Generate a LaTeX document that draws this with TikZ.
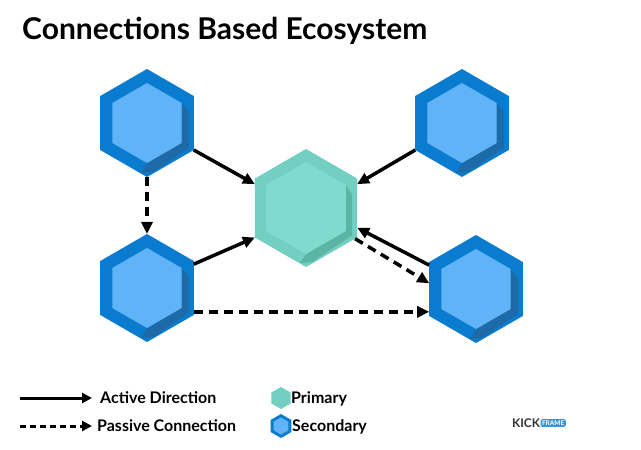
\documentclass[tikz,border=0pt]{standalone}
\usepackage{fontspec}
\setmainfont{Lato}
\usetikzlibrary{shapes.geometric,arrows.meta}
\definecolor{secO}{HTML}{0A7CCF}\definecolor{secI}{HTML}{60B3F7}\definecolor{secS}{HTML}{1E6AA6}
\definecolor{priO}{HTML}{72CFC1}\definecolor{priI}{HTML}{80DACD}\definecolor{priS}{HTML}{5BB5A5}
\begin{document}
\begin{tikzpicture}[x=1pt,y=-1pt,
  hexa/.style={regular polygon,regular polygon sides=6,shape border rotate=30,inner sep=0pt,outer sep=0pt,draw=none},
  act/.style={line width=3.5pt,-{Triangle[length=12pt,width=11pt]}},
  pas/.style={act,dash pattern=on 9pt off 6pt},
  lbl/.style={font=\fontsize{16}{18}\selectfont\bfseries,anchor=west,inner sep=0pt}]
\useasboundingbox (0,0) rectangle (641,450);
\fill[white] (0,0) rectangle (641,450);
\node[anchor=base west,inner sep=0pt,font=\fontsize{30}{34}\selectfont\bfseries] (title) at (22,39) {Connections Based Ecosystem};
% hexagons
\newcommand{\inner}[4]{\fill[#4] (#1+0.866*#3,#2-0.5*#3) -- (#1+0.866*#3,#2+0.5*#3) -- (#1,#2+#3) -- (#1-0.866*#3,#2+0.5*#3) -- (#1-0.866*#3,#2-0.5*#3) -- (#1,#2-#3) -- cycle;}
\newcommand{\fullhex}[8]{%
  \node[hexa,minimum size=2*#4,fill=#6] (#1) at (#2,#3) {};
  \fill[#8] (#2+0.866*#5,#3-0.5*#5) -- (#2+0.866*#4-5,#3-0.5*#4+16) -- (#2+0.866*#4-5,#3+0.5*#4-2) -- (#2+6,#3+#4-5) -- (#2-6,#3+#4-4) -- (#2,#3+#5) -- (#2+0.866*#5,#3+0.5*#5) -- cycle;
  \inner{#2}{#3}{#5}{#7}}
\fullhex{tl}{147}{123}{54}{40}{secO}{secI}{secS}
\fullhex{tr}{462}{123}{54}{40}{secO}{secI}{secS}
\fullhex{bl}{147}{288}{54}{40}{secO}{secI}{secS}
\fullhex{br}{476}{289}{54}{40}{secO}{secI}{secS}
\fullhex{c}{306}{208}{59}{46}{priO}{priI}{priS}
% connectors
\draw[act] (tl.-30) -- (c.155);
\draw[act] (tr.-150) -- (c.25);
\draw[act] (bl.27) -- (c.210);
\draw[pas] (tl.south) -- (bl.north);
\draw[pas] (bl.-27) -- (br.west |- bl.-27);
\draw[act] (br.153) -- (c.-21);
\draw[pas] (c.-32) -- (br.173);
% legend
\coordinate (a1) at (20,398); \coordinate (a2) at (92,398);
\coordinate (p1) at (20,426); \coordinate (p2) at (92,426);
\draw[act,line width=3pt,-{Triangle[length=10pt,width=10pt]}] (a1) -- (a2);
\draw[act,line width=3pt,dash pattern=on 6pt off 4pt,-{Triangle[length=10pt,width=10pt]}] (p1) -- (p2);
\node[lbl] (la) at (100,398) {Active Direction};
\node[lbl] (lp) at (97,426) {Passive Connection};
\node[hexa,minimum size=22pt,fill=priO] (lh1) at (281,398) {};
\node[hexa,minimum size=24pt,fill=secO] (lh2) at (281,426) {};
\inner{281}{426}{8.5}{secI}
\node[lbl] (l1) at (291,399) {Primary};
\node[lbl] (l2) at (292,427) {Secondary};
% logo
\node[anchor=west,inner sep=0pt,font=\fontsize{12}{12}\selectfont\bfseries,text=black!80] (kick) at (512,423) {KICK};
\node[anchor=west,fill=secO!80,text=white,rounded corners=2pt,inner sep=1.5pt,font=\fontsize{6.5}{7}\selectfont\bfseries] (frame) at (kick.east) {FRAME};
\end{tikzpicture}
\end{document}
